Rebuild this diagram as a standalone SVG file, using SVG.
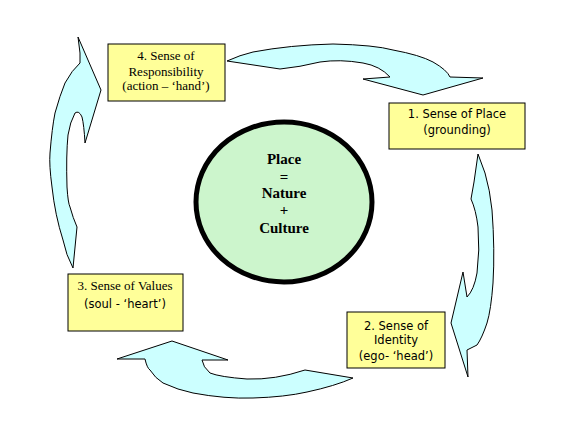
<svg xmlns="http://www.w3.org/2000/svg" width="565" height="429" viewBox="0 0 565 429">
<style>
.box{fill:#ffff99;stroke:#000;stroke-width:1}
.arr{fill:#ccffff;stroke:#000;stroke-width:1;stroke-linejoin:round}
.serif{font-family:"Liberation Serif",serif;font-size:13px;fill:#000;text-anchor:middle}
.sans{font-family:"DejaVu Sans","Liberation Sans",sans-serif;font-size:11.5px;fill:#000;text-anchor:middle}
.ctr{font-family:"Liberation Serif",serif;font-size:15px;font-weight:bold;fill:#000;text-anchor:middle}
</style>
<rect width="565" height="429" fill="#fff"/>
<g id="connectors">
<path class="arr" d="M227,61 Q240,55 253,52 Q290,45 333,44 Q375,45 393,50 Q420,55 433,62 Q447,70 450,77 L483,78 L423,95 L363,79 L390,77 Q380,66 363,63 Q340,59 320,62 Q300,67 280,69 Z"/>
<path class="arr" d="M478,154 L485,173 Q490,190 492,210 Q495,250 493,283 Q491,310 487,323 Q482,338 477,345 L467,350 L468,377 L451,323 L463,272 L467,297 Q474,290 477,273 Q480,250 478,227 Q476,210 471,199 L474,182 Z"/>
<path class="arr" d="M353,378 L305,370 Q275,380 247,379 Q220,377 210,373 Q203,367 202,360 L228,360 L172,341 L117,359 L145,359 Q147,368 150,370 Q155,378 163,383 Q178,390 193,393 Q225,399 253,398 Q285,397 307,392 Q335,386 353,378 Z"/>
<path class="arr" d="M78,37 L101,90 L85,143 Q84,125 82,117 Q79,110 75,113 Q70,122 68,135 Q66,155 67,187 Q68,203 70,207 Q73,218 77,227 L73,268 Q66,255 63,240 Q55,215 52,187 Q49,165 50,153 Q52,128 55,113 Q60,95 65,83 Q72,70 80,63 L80,53 Z"/>
</g>
<g id="center">
<ellipse cx="284" cy="202" rx="88" ry="80" fill="#ccf5cc" stroke="#000" stroke-width="5"/>
<text class="ctr" x="284" y="164">Place</text>
<text class="ctr" x="284" y="182">=</text>
<text class="ctr" x="284" y="198">Nature</text>
<text class="ctr" x="284" y="215">+</text>
<text class="ctr" x="284" y="233">Culture</text>
</g>
<g id="node1">
<rect class="box" x="389" y="103" width="136" height="46"/>
<text class="sans" x="457" y="118">1. Sense of Place</text>
<text class="sans" x="457" y="134">(grounding)</text>
</g>
<g id="node2">
<rect class="box" x="347" y="312" width="98" height="56"/>
<text class="sans" x="396" y="330">2. Sense of</text>
<text class="sans" x="396" y="344">Identity</text>
<text class="sans" x="396" y="360">(ego- ‘head’)</text>
</g>
<g id="node3">
<rect class="box" x="68" y="274" width="115" height="57"/>
<text class="serif" x="125" y="290">3. Sense of Values</text>
<text class="sans" x="125" y="308">(soul - ‘heart’)</text>
</g>
<g id="node4">
<rect class="box" x="108" y="44" width="117" height="57"/>
<text class="serif" x="166" y="60">4. Sense of</text>
<text class="serif" x="166" y="76">Responsibility</text>
<text class="serif" x="166" y="90">(action – ‘hand’)</text>
</g>
</svg>
